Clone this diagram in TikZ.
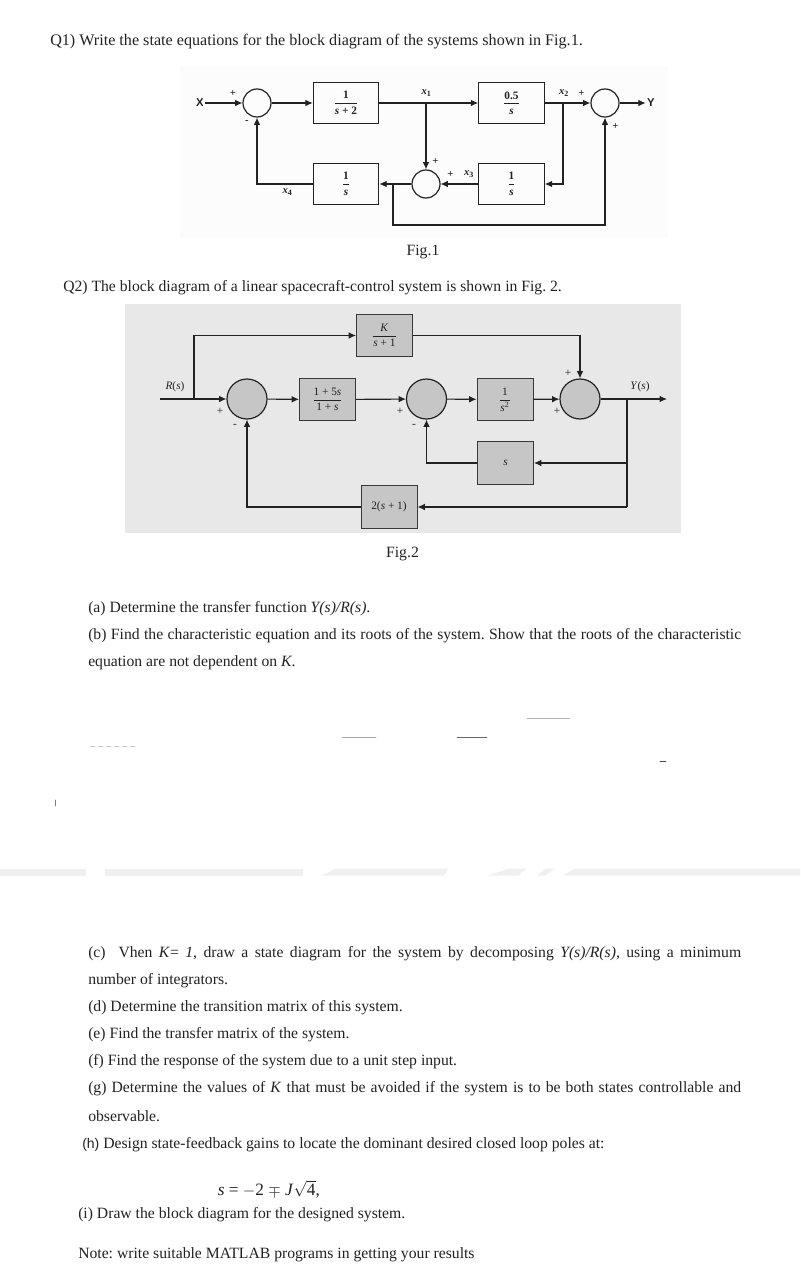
\documentclass[tikz,border=0pt]{standalone}
\usepackage{fontspec}
\setmainfont{Liberation Serif}
\setsansfont{Liberation Sans}
\usetikzlibrary{arrows.meta}
\definecolor{ink}{HTML}{222222}
\definecolor{panel}{HTML}{E8E8E8}
\definecolor{boxgray}{HTML}{C6C6C6}
\tikzset{
  conn/.style={draw=ink,line width=0.85pt},
  arr/.style={conn,-{Latex[length=5.5pt,width=5pt]}},
  txt/.style={anchor=west,inner sep=0pt,yshift=-1.6pt,text=ink,font=\fontsize{11.76}{13}\selectfont\frenchspacing},
  ctr/.style={inner sep=0pt,yshift=-1.6pt,text=ink,font=\fontsize{11.76}{13}\selectfont},
  bA/.style={draw=ink,line width=0.9pt,minimum width=49pt,minimum height=31pt,inner sep=0pt,text=ink,font=\fontsize{8.5}{9}\selectfont\bfseries\boldmath},
  sA/.style={circle,draw=ink,line width=0.9pt,minimum size=21pt,inner sep=0pt},
  lA/.style={inner sep=0pt,text=ink,font=\fontsize{8}{9}\selectfont\bfseries},
  bB/.style={draw=ink!90,fill=boxgray,line width=0.7pt,minimum width=42pt,minimum height=32pt,inner sep=0pt,text=ink,font=\fontsize{8.5}{9}\selectfont},
  sB/.style={circle,draw=ink,fill=boxgray,line width=0.9pt,minimum size=30pt,inner sep=0pt},
  lB/.style={inner sep=0pt,text=ink,font=\fontsize{8.5}{9}\selectfont},
  smudge/.style={draw=#1,line width=0.6pt,line cap=round},
}
\newcommand{\spread}[1]{\makebox[489.7pt][s]{#1}}
\newcommand{\frc}[2]{$\displaystyle\frac{\hbox{#1}}{\hbox{#2}}$}
\begin{document}
\begin{tikzpicture}[x=0.75pt,y=-0.75pt]
\useasboundingbox (0,0) rectangle (800,1280);
\fill[white] (0,0) rectangle (800,1280);

% Fig.1 ------------------------------------------------
\fill[black!1] (180,66) rectangle (668,238);
\node[sA] (s1) at (257,103) {};
\node[bA] (b1) at (346,103) {\frc{1}{\textit{s} + 2}};
\node[bA] (b2) at (511.5,103) {\frc{0.5}{\textit{s}}};
\node[sA] (s2) at (605,103) {};
\node[bA] (b3) at (346,184) {\frc{1}{\textit{s}}};
\node[sA] (sm) at (426,184) {};
\node[bA] (b4) at (511.5,184) {\frc{1}{\textit{s}}};
\node[inner sep=1pt,text=ink,font=\fontsize{8.5}{9}\sffamily\bfseries] (X) at (200,103) {X};
\node[inner sep=1pt,text=ink,font=\fontsize{8.5}{9}\sffamily\bfseries] (Y) at (651,103) {Y};
\coordinate (j1) at (426,103);
\coordinate (j2) at (563,103);
\coordinate (j3) at (393,184);
\draw[arr] (X) -- (s1);
\draw[arr] (s1) -- (b1);
\draw[arr] (b1) -- (b2);
\draw[arr] (b2) -- (s2);
\draw[arr] (s2) -- (Y);
\draw[arr] (j1) -- (sm);
\draw[arr] (j2) |- (b4);
\draw[arr] (b4) -- (sm);
\draw[arr] (sm) -- (b3);
\draw[arr] (b3) -| (s1);
\draw[arr] (j3) |- (605,225) -- (s2);
\node[lA] (la1) at (233,93) {+};
\node[lA] (la2) at (247,122) {-};
\node[lA] (la3) at (426.5,93) {\textit{x}\textsubscript{1}};
\node[lA] (la4) at (564,93) {\textit{x}\textsubscript{2}};
\node[lA] (la5) at (581.5,93) {+};
\node[lA] (la6) at (615.5,126) {+};
\node[lA] (la7) at (435.5,161) {+};
\node[lA] (la8) at (450.5,174) {+};
\node[lA] (la9) at (469,174) {\textit{x}\textsubscript{3}};
\node[lA] (la10) at (287.5,192) {\textit{x}\textsubscript{4}};

% Fig.2 ------------------------------------------------
\fill[panel] (125,304) rectangle (681,533);
\node[sB] (t1) at (247,399) {};
\node[bB] (c1) at (327.5,399.5) {\frc{1 + 5\textit{s}}{1 + \textit{s}}};
\node[sB] (t2) at (426.5,399) {};
\node[bB] (c2) at (505,399.5) {\frc{1}{\textit{s}\textsuperscript{2}}};
\node[sB] (t3) at (580,399) {};
\node[bB] (c3) at (384.5,335.5) {\frc{\textit{K}}{\textit{s} + 1}};
\node[bB] (c4) at (505.5,463) {\textit{s}};
\node[bB] (c5) at (389,507) {2(\textit{s} + 1)};
\coordinate (rin) at (160,399);
\coordinate (rj) at (194,399);
\coordinate (yj) at (627,399);
\coordinate (yout) at (667,399);
\coordinate (yb) at (627,463);
\coordinate (yc) at (627,507);
\draw[arr] (rin) -- (t1);
\draw[arr] (t1) -- (c1);
\draw[arr] (c1) -- (t2);
\draw[arr] (t2) -- (c2);
\draw[arr] (c2) -- (t3);
\draw[arr] (t3) -- (yout);
\draw[arr] (rj) |- (c3);
\draw[arr] (c3) -| (t3);
\draw[conn] (yj) -- (yc);
\draw[arr] (yb) -- (c4);
\draw[arr] (yc) -- (c5);
\draw[arr] (c4) -| (t2);
\draw[arr] (c5) -| (t1);
\node[lB] (lb1) at (175,387) {\textit{R}(\textit{s})};
\node[lB] (lb2) at (640,387) {\textit{Y}(\textit{s})};
\node[lB] (lb3) at (220,411) {+};
\node[lB] (lb4) at (235,426) {-};
\node[lB] (lb5) at (400,411) {+};
\node[lB] (lb6) at (414,426) {-};
\node[lB] (lb7) at (568,373) {+};
\node[lB] (lb8) at (557,411) {+};

% Text -------------------------------------------------
\node[txt,font=\fontsize{12.1}{13}\selectfont] (q1) at (50,39) {Q1) Write the state equations for the block diagram of the systems shown in Fig.1.};
\node[ctr] (f1) at (423,250) {Fig.1};
\node[txt] (q2) at (63,286) {Q2) The block diagram of a linear spacecraft-control system is shown in Fig. 2.};
\node[ctr] (f2) at (402.5,552) {Fig.2};
\node[txt] (ta) at (88,607) {(a) Determine the transfer function \textit{Y(s)/R(s)}.};
\node[txt] (tb1) at (88,634) {\spread{(b) Find the characteristic equation and its roots of the system. Show that the roots of the characteristic}};
\node[txt] (tb2) at (88,661) {equation are not dependent on \textit{K}.};
\node[txt] (tc1) at (88,952) {\spread{(c) \ Vhen \textit{K}= \textit{1}, draw a state diagram for the system by decomposing \textit{Y(s)/R(s)}, using a minimum}};
\node[txt] (tc2) at (88,979) {number of integrators.};
\node[txt] (td) at (88,1006) {(d) Determine the transition matrix of this system.};
\node[txt] (te) at (88,1033) {(e) Find the transfer matrix of the system.};
\node[txt] (tf) at (88,1060) {(f) Find the response of the system due to a unit step input.};
\node[txt] (tg1) at (88,1087) {\spread{(g) Determine the values of \textit{K} that must be avoided if the system is to be both states controllable and}};
\node[txt] (tg2) at (88,1114) {observable.};
\node[txt] (th) at (82,1143) {{\sffamily\fontsize{10.5}{13}\selectfont(h)} Design state-feedback gains to locate the dominant desired closed loop poles at:};
\node[txt,font=\fontsize{13}{14}\selectfont] (ts) at (217.5,1187) {\textit{s} = $-$2 $\mp$ \textit{J}$\sqrt{\hbox{4}}$,};
\node[txt] (ti) at (78,1213) {(i) Draw the block diagram for the designed system.};
\node[txt] (tn) at (78,1253) {Note: write suitable MATLAB programs in getting your results};

% Scan marks --------------------------------------------
\fill[black!6] (0,868.5) rectangle (86,875.5);
\fill[black!6] (105,868.5) rectangle (303,875.5);
\fill[black!6] (322,875.5) -- (336,868.5) -- (448,868.5) -- (444,875.5) -- cycle;
\fill[black!6] (488,875.5) -- (510,868.5) -- (527,868.5) -- (518,875.5) -- cycle;
\fill[black!6] (537,875.5) -- (546,868.5) -- (555,868.5) -- (545,875.5) -- cycle;
\fill[black!6] (563,875.5) -- (575,868.5) -- (800,868.5) -- (800,875.5) -- cycle;
\draw[smudge=black!35] (342,737.5) -- (376,737.5);
\draw[smudge=black!60] (457,737.5) -- (487,737.5);
\draw[smudge=black!30] (527,718.5) -- (570,718.5);
\draw[smudge=black!22,dashed,line width=0.5pt] (91,746) -- (139,746);
\draw[smudge=black!70] (660,761) -- (666,761);
\draw[smudge=black!50] (55,800) -- (55,806);
\end{tikzpicture}
\end{document}
